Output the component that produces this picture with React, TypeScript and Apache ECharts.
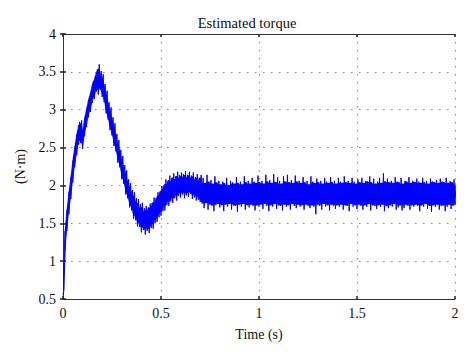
import React, { useEffect, useRef } from "react";
import * as echarts from "echarts";

const titleText = "Estimated torque";
const xName = "Time (s)";
const yName = "(N·m)";
const sampleStep = 0.01;
const steadyStartIndex = 70;

// upper / lower envelope of the noisy torque band, one value per 0.01 s
const upperEnvelope = [
  0.62, 1.45, 1.72, 1.96, 2.16, 2.38, 2.56, 2.72, 2.84, 2.86,
  2.76, 2.93, 3.05, 3.17, 3.26, 3.38, 3.44, 3.53, 3.6, 3.51,
  3.47, 3.34, 3.25, 3.1, 3.03, 2.9, 2.82, 2.68, 2.6, 2.47,
  2.39, 2.27, 2.2, 2.08, 2.03, 1.94, 1.91, 1.83, 1.82, 1.75,
  1.77, 1.7, 1.73, 1.71, 1.76, 1.77, 1.84, 1.83, 1.91, 1.92,
  1.99, 2.0, 2.08, 2.06, 2.13, 2.1, 2.16, 2.12, 2.18, 2.14,
  2.17, 2.15, 2.19, 2.14, 2.18, 2.13, 2.17, 2.11, 2.15, 2.1,
  2.14,
  2.1, 2.03, 2.14, 2.05, 2.07, 2.02, 2.12, 2.04, 2.06, 2.01,
  2.05, 2.03, 2.1, 2.0, 2.06, 2.04, 2.02, 2.11, 2.03, 2.05,
  2.01, 2.12, 2.04, 2.06, 2.02, 2.1, 2.05, 2.03, 2.13, 2.04,
  2.06, 2.02, 2.14, 2.05, 2.07, 2.03, 2.15, 2.04, 2.11, 2.06,
  2.02, 2.12, 2.05, 2.14, 2.04, 2.07, 2.03, 2.13, 2.05, 2.06,
  2.03, 2.11, 2.04, 2.06, 2.01, 2.12, 2.05, 2.03, 2.09, 2.04,
  2.06, 2.02, 2.1, 2.05, 2.03, 2.11, 2.04, 2.06, 2.02, 2.1,
  2.05, 2.03, 2.12, 2.04, 2.06, 2.03, 2.1, 2.05, 2.02, 2.08,
  2.04, 2.1, 2.03, 2.06, 2.05, 2.12, 2.04, 2.09, 2.02, 2.05,
  2.1, 2.03, 2.16, 2.05, 2.09, 2.04, 2.06, 2.03, 2.11, 2.05,
  2.04, 2.1, 2.02, 2.06, 2.05, 2.11, 2.03, 2.06, 2.04, 2.09,
  2.05, 2.03, 2.1, 2.04, 2.06, 2.02, 2.09, 2.05, 2.04, 2.07,
  2.03, 2.09, 2.05, 2.04, 2.1, 2.03, 2.06, 2.04, 2.08, 2.03,
];

const lowerEnvelope = [
  0.55, 1.1, 1.4, 1.62, 1.82, 2.04, 2.24, 2.4, 2.54, 2.56,
  2.48, 2.65, 2.77, 2.9, 2.97, 3.09, 3.14, 3.24, 3.2, 3.26,
  3.17, 3.1, 2.95, 2.87, 2.73, 2.66, 2.52, 2.45, 2.3, 2.24,
  2.08, 2.02, 1.88, 1.83, 1.71, 1.67, 1.56, 1.54, 1.46, 1.45,
  1.38, 1.41, 1.35, 1.4, 1.37, 1.44, 1.43, 1.5, 1.52, 1.58,
  1.6, 1.66, 1.67, 1.74, 1.73, 1.79, 1.77, 1.83, 1.8, 1.86,
  1.84, 1.88, 1.83, 1.87, 1.85, 1.89, 1.82, 1.84, 1.8, 1.81,
  1.78,
  1.76, 1.7, 1.77, 1.68, 1.75, 1.73, 1.66, 1.74, 1.76, 1.71,
  1.74, 1.66, 1.75, 1.72, 1.76, 1.68, 1.74, 1.73, 1.65, 1.75,
  1.72, 1.76, 1.68, 1.74, 1.71, 1.75, 1.73, 1.67, 1.74, 1.72,
  1.75, 1.69, 1.76, 1.73, 1.66, 1.74, 1.72, 1.76, 1.69, 1.74,
  1.73, 1.67, 1.75, 1.72, 1.74, 1.68, 1.76, 1.73, 1.7, 1.75,
  1.72, 1.74, 1.68, 1.75, 1.73, 1.7, 1.74, 1.72, 1.62, 1.75,
  1.73, 1.68, 1.76, 1.72, 1.74, 1.67, 1.75, 1.73, 1.69, 1.74,
  1.72, 1.75, 1.68, 1.74, 1.73, 1.66, 1.76, 1.72, 1.74, 1.69,
  1.75, 1.73, 1.68, 1.74, 1.72, 1.76, 1.67, 1.74, 1.73, 1.69,
  1.74, 1.72, 1.75, 1.66, 1.73, 1.7, 1.74, 1.72, 1.76, 1.68,
  1.71, 1.74, 1.67, 1.7, 1.75, 1.73, 1.68, 1.74, 1.72, 1.75,
  1.73, 1.66, 1.74, 1.72, 1.76, 1.69, 1.73, 1.65, 1.74, 1.72,
  1.75, 1.68, 1.73, 1.74, 1.66, 1.72, 1.75, 1.69, 1.73, 1.74,
];

const FONT = "serif";
const BLUE = "#0000ff";

export default function App() {
  const ref = useRef<HTMLDivElement>(null);
  useEffect(() => {
    if (!ref.current) return;
    const chart = echarts.init(ref.current, null, { renderer: "svg" });
    const n = Math.min(upperEnvelope.length, lowerEnvelope.length);
    // solid core of the band: inset during the transient, spike-free (3-sample window) in steady state
    const coreHi: number[] = [];
    const coreLo: number[] = [];
    for (let i = 0; i < n; i++) {
      if (i >= steadyStartIndex && i > 0 && i < n - 1) {
        coreHi.push(Math.min(upperEnvelope[i - 1], upperEnvelope[i], upperEnvelope[i + 1]));
        coreLo.push(Math.max(lowerEnvelope[i - 1], lowerEnvelope[i], lowerEnvelope[i + 1]));
      } else {
        const d = (upperEnvelope[i] - lowerEnvelope[i]) * 0.15;
        coreHi.push(upperEnvelope[i] - d);
        coreLo.push(lowerEnvelope[i] + d);
      }
    }
    const zigzag: number[][] = [];
    const segments: number[][] = [];
    for (let i = 0; i < n; i++) {
      const t = +(i * sampleStep).toFixed(3);
      zigzag.push([t, lowerEnvelope[i]]);
      zigzag.push([+(t + sampleStep / 2).toFixed(4), upperEnvelope[i]]);
      if (i < n - 1) {
        const t2 = +((i + 1) * sampleStep).toFixed(3);
        segments.push([t, coreLo[i], coreHi[i], t2, coreLo[i + 1], coreHi[i + 1]]);
      }
    }
    const axisLine = { show: true, lineStyle: { color: "#333", width: 1 } };
    const tick = { show: true, inside: true, length: 3, lineStyle: { color: "#222", width: 1.5 } };
    const gridLine = { show: true, lineStyle: { color: "#888", type: [1.5, 6.5] as any, width: 1 } };
    const labelStyle = { fontFamily: FONT, fontSize: 14, color: "#111", margin: 7 };
    chart.setOption({
      animation: false,
      backgroundColor: "#fff",
      textStyle: { fontFamily: FONT },
      title: {
        text: titleText,
        left: 247,
        textAlign: "center",
        top: 15,
        padding: 0,
        textStyle: { fontFamily: FONT, fontSize: 14.5, fontWeight: "normal", color: "#111" },
      },
      grid: { left: 63, right: 19, top: 34, bottom: 62 },
      xAxis: [
        {
          type: "value",
          min: 0,
          max: 2,
          interval: 0.5,
          name: xName,
          nameLocation: "middle",
          nameGap: 28,
          nameTextStyle: { fontFamily: FONT, fontSize: 14, color: "#111" },
          axisLine,
          axisTick: tick,
          axisLabel: labelStyle,
          splitLine: gridLine,
        },
        {
          type: "value",
          position: "top",
          min: 0,
          max: 2,
          interval: 0.5,
          axisLine,
          axisTick: tick,
          axisLabel: { show: false },
          splitLine: { show: false },
        },
      ],
      yAxis: [
        {
          type: "value",
          min: 0.5,
          max: 4,
          interval: 0.5,
          name: yName,
          nameLocation: "middle",
          nameGap: 34,
          nameRotate: 90,
          nameTextStyle: { fontFamily: FONT, fontSize: 14, color: "#111" },
          axisLine,
          axisTick: tick,
          axisLabel: labelStyle,
          splitLine: gridLine,
        },
        {
          type: "value",
          position: "right",
          min: 0.5,
          max: 4,
          interval: 0.5,
          axisLine,
          axisTick: tick,
          axisLabel: { show: false },
          splitLine: { show: false },
        },
      ],
      series: [
        {
          type: "custom",
          data: segments,
          silent: true,
          clip: true,
          encode: { x: [0, 3], y: [1, 2, 4, 5] },
          renderItem: (_params: any, api: any) => {
            const p1 = api.coord([api.value(0), api.value(1)]);
            const p2 = api.coord([api.value(0), api.value(2)]);
            const p3 = api.coord([api.value(3), api.value(5)]);
            const p4 = api.coord([api.value(3), api.value(4)]);
            return {
              type: "polygon",
              shape: { points: [p1, p2, p3, p4] },
              style: { fill: BLUE, stroke: BLUE, lineWidth: 0.6 },
            };
          },
        },
        {
          type: "line",
          data: zigzag,
          showSymbol: false,
          symbol: "none",
          clip: true,
          lineStyle: { color: BLUE, width: 1 },
          itemStyle: { color: BLUE },
        },
      ],
    });
    return () => chart.dispose();
  }, []);
  return (
    <div
      ref={ref}
      style={{ position: "fixed", left: 0, top: 0, width: 474, height: 361, background: "#fff" }}
    />
  );
}
